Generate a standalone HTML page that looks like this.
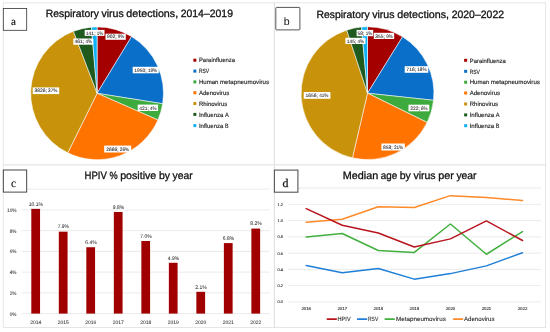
<!DOCTYPE html><html><head><meta charset="utf-8"><title>Respiratory virus detections</title><style>html,body{margin:0;padding:0;background:#fff}svg{display:block}text{font-family:"Liberation Sans", sans-serif;text-rendering:geometricPrecision}text.sf{font-family:"Liberation Serif",serif}</style></head><body>
<svg width="550" height="332" viewBox="0 0 550 332">
<rect width="550" height="332" fill="#fff"/>
<rect x="3.3" y="2.8" width="542.3" height="324.7" fill="#fff" stroke="#e6e6e6" stroke-width="1"/>
<line x1="274.4" x2="274.4" y1="2.8" y2="327.5" stroke="#d4d4d4" stroke-width="0.8"/>
<line x1="3.3" x2="545.6" y1="164.8" y2="164.8" stroke="#e4e4e4" stroke-width="1.2"/>
<text y="17.20" font-size="10.61" fill="#111" stroke="#111" stroke-width="0.3"><tspan x="45.80" textLength="53.06" lengthAdjust="spacingAndGlyphs">Respiratory</tspan> <tspan x="101.45" textLength="22.32" lengthAdjust="spacingAndGlyphs">virus</tspan> <tspan x="126.37" textLength="51.76" lengthAdjust="spacingAndGlyphs">detections,</tspan> <tspan x="180.72" textLength="52.22" lengthAdjust="spacingAndGlyphs">2014–2019</tspan></text>
<path d="M97.10,93.30 L97.10,26.90 A66.4,66.4 0 0 1 131.62,36.58 Z" fill="#A50000" stroke="#fff" stroke-width="0.55" stroke-linejoin="round"/>
<path d="M97.10,93.30 L131.62,36.58 A66.4,66.4 0 0 1 162.68,103.73 Z" fill="#0A6FC9" stroke="#fff" stroke-width="0.55" stroke-linejoin="round"/>
<path d="M97.10,93.30 L162.68,103.73 A66.4,66.4 0 0 1 157.92,119.94 Z" fill="#3DAA3D" stroke="#fff" stroke-width="0.55" stroke-linejoin="round"/>
<path d="M97.10,93.30 L157.92,119.94 A66.4,66.4 0 0 1 67.75,152.86 Z" fill="#FF7300" stroke="#fff" stroke-width="0.55" stroke-linejoin="round"/>
<path d="M97.10,93.30 L67.75,152.86 A66.4,66.4 0 0 1 73.41,31.27 Z" fill="#C8920A" stroke="#fff" stroke-width="0.55" stroke-linejoin="round"/>
<path d="M97.10,93.30 L73.41,31.27 A66.4,66.4 0 0 1 91.43,27.14 Z" fill="#1E5A1E" stroke="#fff" stroke-width="0.55" stroke-linejoin="round"/>
<path d="M97.10,93.30 L91.43,27.14 A66.4,66.4 0 0 1 97.10,26.90 Z" fill="#10B0F5" stroke="#fff" stroke-width="0.55" stroke-linejoin="round"/>
<rect x="84.70" y="29.90" width="19.80" height="6.00" fill="#fff"/>
<text y="34.60" font-size="4.86" fill="#262626" stroke="#262626" stroke-width="0.06"><tspan x="85.86" textLength="9.66" lengthAdjust="spacingAndGlyphs">141;</tspan> <tspan x="96.74" textLength="6.60" lengthAdjust="spacingAndGlyphs">1%</tspan></text>
<rect x="105.50" y="33.70" width="20.30" height="6.10" fill="#fff"/>
<text y="38.45" font-size="4.86" fill="#262626" stroke="#262626" stroke-width="0.06"><tspan x="106.91" textLength="9.66" lengthAdjust="spacingAndGlyphs">902;</tspan> <tspan x="117.79" textLength="6.60" lengthAdjust="spacingAndGlyphs">9%</tspan></text>
<rect x="73.30" y="38.50" width="20.00" height="6.20" fill="#fff"/>
<text y="43.30" font-size="4.86" fill="#262626" stroke="#262626" stroke-width="0.06"><tspan x="74.56" textLength="9.66" lengthAdjust="spacingAndGlyphs">461;</tspan> <tspan x="85.44" textLength="6.60" lengthAdjust="spacingAndGlyphs">4%</tspan></text>
<rect x="132.70" y="66.80" width="26.10" height="6.50" fill="#fff"/>
<text y="71.75" font-size="4.86" fill="#262626" stroke="#262626" stroke-width="0.06"><tspan x="134.28" textLength="12.39" lengthAdjust="spacingAndGlyphs">1950;</tspan> <tspan x="147.89" textLength="9.33" lengthAdjust="spacingAndGlyphs">19%</tspan></text>
<rect x="32.70" y="87.40" width="26.50" height="6.70" fill="#fff"/>
<text y="92.45" font-size="4.86" fill="#262626" stroke="#262626" stroke-width="0.06"><tspan x="34.48" textLength="12.39" lengthAdjust="spacingAndGlyphs">3826;</tspan> <tspan x="48.09" textLength="9.33" lengthAdjust="spacingAndGlyphs">37%</tspan></text>
<rect x="137.70" y="104.60" width="20.40" height="6.40" fill="#fff"/>
<text y="109.50" font-size="4.86" fill="#262626" stroke="#262626" stroke-width="0.06"><tspan x="139.16" textLength="9.66" lengthAdjust="spacingAndGlyphs">421;</tspan> <tspan x="150.04" textLength="6.60" lengthAdjust="spacingAndGlyphs">4%</tspan></text>
<rect x="104.20" y="145.60" width="27.00" height="6.90" fill="#fff"/>
<text y="150.75" font-size="4.86" fill="#262626" stroke="#262626" stroke-width="0.06"><tspan x="106.23" textLength="12.39" lengthAdjust="spacingAndGlyphs">2666;</tspan> <tspan x="119.84" textLength="9.33" lengthAdjust="spacingAndGlyphs">26%</tspan></text>
<rect x="193.35" y="58.70" width="3" height="3" fill="#A50000"/>
<text y="62.45" font-size="6.09" fill="#262626" stroke="#262626" stroke-width="0.15"><tspan x="198.90" textLength="36.18" lengthAdjust="spacingAndGlyphs">Parainfluenza</tspan></text>
<rect x="193.35" y="69.60" width="3" height="3" fill="#0A6FC9"/>
<text y="73.35" font-size="6.09" fill="#262626" stroke="#262626" stroke-width="0.15"><tspan x="198.90" textLength="10.26" lengthAdjust="spacingAndGlyphs">RSV</tspan></text>
<rect x="193.35" y="80.40" width="3" height="3" fill="#3DAA3D"/>
<text y="84.15" font-size="6.09" fill="#262626" stroke="#262626" stroke-width="0.15"><tspan x="198.90" textLength="19.54" lengthAdjust="spacingAndGlyphs">Human</tspan> <tspan x="219.94" textLength="49.22" lengthAdjust="spacingAndGlyphs">metapneumovirus</tspan></text>
<rect x="193.35" y="91.20" width="3" height="3" fill="#FF7300"/>
<text y="94.95" font-size="6.09" fill="#262626" stroke="#262626" stroke-width="0.15"><tspan x="198.90" textLength="30.43" lengthAdjust="spacingAndGlyphs">Adenovirus</tspan></text>
<rect x="193.35" y="102.00" width="3" height="3" fill="#C8920A"/>
<text y="105.75" font-size="6.09" fill="#262626" stroke="#262626" stroke-width="0.15"><tspan x="198.90" textLength="28.42" lengthAdjust="spacingAndGlyphs">Rhinovirus</tspan></text>
<rect x="193.35" y="112.90" width="3" height="3" fill="#1E5A1E"/>
<text y="116.65" font-size="6.09" fill="#262626" stroke="#262626" stroke-width="0.15"><tspan x="198.90" textLength="24.54" lengthAdjust="spacingAndGlyphs">Influenza</tspan> <tspan x="224.93" textLength="3.83" lengthAdjust="spacingAndGlyphs">A</tspan></text>
<rect x="193.35" y="124.10" width="3" height="3" fill="#10B0F5"/>
<text y="127.85" font-size="6.09" fill="#262626" stroke="#262626" stroke-width="0.15"><tspan x="198.90" textLength="24.54" lengthAdjust="spacingAndGlyphs">Influenza</tspan> <tspan x="224.93" textLength="3.60" lengthAdjust="spacingAndGlyphs">B</tspan></text>
<rect x="3.3" y="8.4" width="23.40" height="21.90" rx="0" fill="#fff" stroke="#333" stroke-width="0.8"/>
<text x="13.40" y="25.00" font-size="11.00" fill="#111" stroke="#111" stroke-width="0.2" text-anchor="middle" class="sf">a</text>
<text y="17.50" font-size="10.64" fill="#111" stroke="#111" stroke-width="0.3"><tspan x="316.40" textLength="53.20" lengthAdjust="spacingAndGlyphs">Respiratory</tspan> <tspan x="372.20" textLength="22.38" lengthAdjust="spacingAndGlyphs">virus</tspan> <tspan x="397.18" textLength="51.90" lengthAdjust="spacingAndGlyphs">detections,</tspan> <tspan x="451.68" textLength="52.36" lengthAdjust="spacingAndGlyphs">2020–2022</tspan></text>
<path d="M367.50,93.20 L367.50,26.80 A66.4,66.4 0 0 1 402.56,36.81 Z" fill="#A50000" stroke="#fff" stroke-width="0.55" stroke-linejoin="round"/>
<path d="M367.50,93.20 L402.56,36.81 A66.4,66.4 0 0 1 433.52,100.31 Z" fill="#0A6FC9" stroke="#fff" stroke-width="0.55" stroke-linejoin="round"/>
<path d="M367.50,93.20 L433.52,100.31 A66.4,66.4 0 0 1 427.14,122.39 Z" fill="#3DAA3D" stroke="#fff" stroke-width="0.55" stroke-linejoin="round"/>
<path d="M367.50,93.20 L427.14,122.39 A66.4,66.4 0 0 1 352.44,157.87 Z" fill="#FF7300" stroke="#fff" stroke-width="0.55" stroke-linejoin="round"/>
<path d="M367.50,93.20 L352.44,157.87 A66.4,66.4 0 0 1 346.73,30.13 Z" fill="#C8920A" stroke="#fff" stroke-width="0.55" stroke-linejoin="round"/>
<path d="M367.50,93.20 L346.73,30.13 A66.4,66.4 0 0 1 361.47,27.07 Z" fill="#1E5A1E" stroke="#fff" stroke-width="0.55" stroke-linejoin="round"/>
<path d="M367.50,93.20 L361.47,27.07 A66.4,66.4 0 0 1 367.50,26.80 Z" fill="#10B0F5" stroke="#fff" stroke-width="0.55" stroke-linejoin="round"/>
<rect x="356.60" y="29.90" width="16.60" height="6.30" fill="#fff"/>
<text y="34.75" font-size="4.86" fill="#262626" stroke="#262626" stroke-width="0.06"><tspan x="357.53" textLength="6.92" lengthAdjust="spacingAndGlyphs">58;</tspan> <tspan x="365.67" textLength="6.60" lengthAdjust="spacingAndGlyphs">1%</tspan></text>
<rect x="373.80" y="32.80" width="20.40" height="6.20" fill="#fff"/>
<text y="37.60" font-size="4.86" fill="#262626" stroke="#262626" stroke-width="0.06"><tspan x="375.26" textLength="9.66" lengthAdjust="spacingAndGlyphs">355;</tspan> <tspan x="386.14" textLength="6.60" lengthAdjust="spacingAndGlyphs">9%</tspan></text>
<rect x="345.40" y="37.80" width="20.10" height="6.20" fill="#fff"/>
<text y="42.60" font-size="4.86" fill="#262626" stroke="#262626" stroke-width="0.06"><tspan x="346.71" textLength="9.66" lengthAdjust="spacingAndGlyphs">145;</tspan> <tspan x="357.59" textLength="6.60" lengthAdjust="spacingAndGlyphs">4%</tspan></text>
<rect x="404.70" y="66.20" width="23.60" height="6.60" fill="#fff"/>
<text y="71.20" font-size="4.86" fill="#262626" stroke="#262626" stroke-width="0.06"><tspan x="406.39" textLength="9.66" lengthAdjust="spacingAndGlyphs">716;</tspan> <tspan x="417.27" textLength="9.33" lengthAdjust="spacingAndGlyphs">18%</tspan></text>
<rect x="303.70" y="92.00" width="26.70" height="6.80" fill="#fff"/>
<text y="97.10" font-size="4.86" fill="#262626" stroke="#262626" stroke-width="0.06"><tspan x="305.58" textLength="12.39" lengthAdjust="spacingAndGlyphs">1656;</tspan> <tspan x="319.19" textLength="9.33" lengthAdjust="spacingAndGlyphs">41%</tspan></text>
<rect x="408.50" y="104.70" width="20.80" height="6.60" fill="#fff"/>
<text y="109.70" font-size="4.86" fill="#262626" stroke="#262626" stroke-width="0.06"><tspan x="410.16" textLength="9.66" lengthAdjust="spacingAndGlyphs">222;</tspan> <tspan x="421.04" textLength="6.60" lengthAdjust="spacingAndGlyphs">6%</tspan></text>
<rect x="381.40" y="143.50" width="23.50" height="7.00" fill="#fff"/>
<text y="148.70" font-size="4.86" fill="#262626" stroke="#262626" stroke-width="0.06"><tspan x="383.04" textLength="9.66" lengthAdjust="spacingAndGlyphs">858;</tspan> <tspan x="393.92" textLength="9.33" lengthAdjust="spacingAndGlyphs">21%</tspan></text>
<rect x="464.15" y="58.80" width="3" height="3" fill="#A50000"/>
<text y="62.55" font-size="6.09" fill="#262626" stroke="#262626" stroke-width="0.15"><tspan x="469.70" textLength="36.18" lengthAdjust="spacingAndGlyphs">Parainfluenza</tspan></text>
<rect x="464.15" y="69.80" width="3" height="3" fill="#0A6FC9"/>
<text y="73.55" font-size="6.09" fill="#262626" stroke="#262626" stroke-width="0.15"><tspan x="469.70" textLength="10.26" lengthAdjust="spacingAndGlyphs">RSV</tspan></text>
<rect x="464.15" y="80.70" width="3" height="3" fill="#3DAA3D"/>
<text y="84.45" font-size="6.09" fill="#262626" stroke="#262626" stroke-width="0.15"><tspan x="469.70" textLength="19.54" lengthAdjust="spacingAndGlyphs">Human</tspan> <tspan x="490.74" textLength="49.22" lengthAdjust="spacingAndGlyphs">metapneumovirus</tspan></text>
<rect x="464.15" y="91.50" width="3" height="3" fill="#FF7300"/>
<text y="95.25" font-size="6.09" fill="#262626" stroke="#262626" stroke-width="0.15"><tspan x="469.70" textLength="30.43" lengthAdjust="spacingAndGlyphs">Adenovirus</tspan></text>
<rect x="464.15" y="102.50" width="3" height="3" fill="#C8920A"/>
<text y="106.25" font-size="6.09" fill="#262626" stroke="#262626" stroke-width="0.15"><tspan x="469.70" textLength="28.42" lengthAdjust="spacingAndGlyphs">Rhinovirus</tspan></text>
<rect x="464.15" y="113.40" width="3" height="3" fill="#1E5A1E"/>
<text y="117.15" font-size="6.09" fill="#262626" stroke="#262626" stroke-width="0.15"><tspan x="469.70" textLength="24.54" lengthAdjust="spacingAndGlyphs">Influenza</tspan> <tspan x="495.73" textLength="3.83" lengthAdjust="spacingAndGlyphs">A</tspan></text>
<rect x="464.15" y="124.20" width="3" height="3" fill="#10B0F5"/>
<text y="127.95" font-size="6.09" fill="#262626" stroke="#262626" stroke-width="0.15"><tspan x="469.70" textLength="24.54" lengthAdjust="spacingAndGlyphs">Influenza</tspan> <tspan x="495.73" textLength="3.60" lengthAdjust="spacingAndGlyphs">B</tspan></text>
<rect x="275.8" y="7.4" width="24.10" height="22.50" rx="0.8" fill="#fff" stroke="#555" stroke-width="1"/>
<text x="286.60" y="24.70" font-size="10.60" fill="#111" text-anchor="middle">b</text>
<text y="178.80" font-size="10.55" fill="#111" stroke="#111" stroke-width="0.3"><tspan x="84.52" textLength="22.33" lengthAdjust="spacingAndGlyphs">HPIV</tspan> <tspan x="109.43" textLength="8.15" lengthAdjust="spacingAndGlyphs">%</tspan> <tspan x="120.16" textLength="36.14" lengthAdjust="spacingAndGlyphs">positive</tspan> <tspan x="158.88" textLength="11.09" lengthAdjust="spacingAndGlyphs">by</tspan> <tspan x="172.55" textLength="20.13" lengthAdjust="spacingAndGlyphs">year</tspan></text>
<line x1="21.5" x2="269.5" y1="313.60" y2="313.60" stroke="#e2e2e2" stroke-width="0.7"/>
<text y="315.70" font-size="5.06" fill="#2a2a2a" stroke="#2a2a2a" stroke-width="0.04"><tspan x="9.78" textLength="6.72" lengthAdjust="spacingAndGlyphs">0%</tspan></text>
<line x1="21.5" x2="269.5" y1="292.86" y2="292.86" stroke="#e2e2e2" stroke-width="0.7"/>
<text y="294.96" font-size="5.06" fill="#2a2a2a" stroke="#2a2a2a" stroke-width="0.04"><tspan x="9.78" textLength="6.72" lengthAdjust="spacingAndGlyphs">2%</tspan></text>
<line x1="21.5" x2="269.5" y1="272.12" y2="272.12" stroke="#e2e2e2" stroke-width="0.7"/>
<text y="274.22" font-size="5.06" fill="#2a2a2a" stroke="#2a2a2a" stroke-width="0.04"><tspan x="9.78" textLength="6.72" lengthAdjust="spacingAndGlyphs">4%</tspan></text>
<line x1="21.5" x2="269.5" y1="251.38" y2="251.38" stroke="#e2e2e2" stroke-width="0.7"/>
<text y="253.48" font-size="5.06" fill="#2a2a2a" stroke="#2a2a2a" stroke-width="0.04"><tspan x="9.78" textLength="6.72" lengthAdjust="spacingAndGlyphs">6%</tspan></text>
<line x1="21.5" x2="269.5" y1="230.64" y2="230.64" stroke="#e2e2e2" stroke-width="0.7"/>
<text y="232.74" font-size="5.06" fill="#2a2a2a" stroke="#2a2a2a" stroke-width="0.04"><tspan x="9.78" textLength="6.72" lengthAdjust="spacingAndGlyphs">8%</tspan></text>
<line x1="21.5" x2="269.5" y1="209.90" y2="209.90" stroke="#e2e2e2" stroke-width="0.7"/>
<text y="212.00" font-size="5.06" fill="#2a2a2a" stroke="#2a2a2a" stroke-width="0.04"><tspan x="6.99" textLength="9.51" lengthAdjust="spacingAndGlyphs">10%</tspan></text>
<line x1="26.7" x2="269.5" y1="189.16" y2="189.16" stroke="#e2e2e2" stroke-width="0.7"/>
<rect x="31.30" y="208.86" width="8.75" height="104.74" fill="#A00000"/>
<text y="205.66" font-size="5.24" fill="#2a2a2a" stroke="#2a2a2a" stroke-width="0.04"><tspan x="28.79" textLength="14.18" lengthAdjust="spacingAndGlyphs">10.1%</tspan></text>
<text y="323.80" font-size="5.06" fill="#2a2a2a" stroke="#2a2a2a" stroke-width="0.04"><tspan x="30.20" textLength="11.15" lengthAdjust="spacingAndGlyphs">2014</tspan></text>
<rect x="58.81" y="231.68" width="8.75" height="81.92" fill="#A00000"/>
<text y="228.48" font-size="5.24" fill="#2a2a2a" stroke="#2a2a2a" stroke-width="0.04"><tspan x="57.74" textLength="11.29" lengthAdjust="spacingAndGlyphs">7.9%</tspan></text>
<text y="323.80" font-size="5.06" fill="#2a2a2a" stroke="#2a2a2a" stroke-width="0.04"><tspan x="57.71" textLength="11.15" lengthAdjust="spacingAndGlyphs">2015</tspan></text>
<rect x="86.32" y="247.23" width="8.75" height="66.37" fill="#A00000"/>
<text y="244.03" font-size="5.24" fill="#2a2a2a" stroke="#2a2a2a" stroke-width="0.04"><tspan x="85.25" textLength="11.29" lengthAdjust="spacingAndGlyphs">6.4%</tspan></text>
<text y="323.80" font-size="5.06" fill="#2a2a2a" stroke="#2a2a2a" stroke-width="0.04"><tspan x="85.22" textLength="11.15" lengthAdjust="spacingAndGlyphs">2016</tspan></text>
<rect x="113.83" y="211.97" width="8.75" height="101.63" fill="#A00000"/>
<text y="208.77" font-size="5.24" fill="#2a2a2a" stroke="#2a2a2a" stroke-width="0.04"><tspan x="112.76" textLength="11.29" lengthAdjust="spacingAndGlyphs">9.8%</tspan></text>
<text y="323.80" font-size="5.06" fill="#2a2a2a" stroke="#2a2a2a" stroke-width="0.04"><tspan x="112.73" textLength="11.15" lengthAdjust="spacingAndGlyphs">2017</tspan></text>
<rect x="141.34" y="241.01" width="8.75" height="72.59" fill="#A00000"/>
<text y="237.81" font-size="5.24" fill="#2a2a2a" stroke="#2a2a2a" stroke-width="0.04"><tspan x="140.27" textLength="11.29" lengthAdjust="spacingAndGlyphs">7.0%</tspan></text>
<text y="323.80" font-size="5.06" fill="#2a2a2a" stroke="#2a2a2a" stroke-width="0.04"><tspan x="140.24" textLength="11.15" lengthAdjust="spacingAndGlyphs">2018</tspan></text>
<rect x="168.85" y="262.79" width="8.75" height="50.81" fill="#A00000"/>
<text y="259.59" font-size="5.24" fill="#2a2a2a" stroke="#2a2a2a" stroke-width="0.04"><tspan x="167.78" textLength="11.29" lengthAdjust="spacingAndGlyphs">4.9%</tspan></text>
<text y="323.80" font-size="5.06" fill="#2a2a2a" stroke="#2a2a2a" stroke-width="0.04"><tspan x="167.75" textLength="11.15" lengthAdjust="spacingAndGlyphs">2019</tspan></text>
<rect x="196.36" y="291.82" width="8.75" height="21.78" fill="#A00000"/>
<text y="288.62" font-size="5.24" fill="#2a2a2a" stroke="#2a2a2a" stroke-width="0.04"><tspan x="195.29" textLength="11.29" lengthAdjust="spacingAndGlyphs">2.1%</tspan></text>
<text y="323.80" font-size="5.06" fill="#2a2a2a" stroke="#2a2a2a" stroke-width="0.04"><tspan x="195.26" textLength="11.15" lengthAdjust="spacingAndGlyphs">2020</tspan></text>
<rect x="223.87" y="243.08" width="8.75" height="70.52" fill="#A00000"/>
<text y="239.88" font-size="5.24" fill="#2a2a2a" stroke="#2a2a2a" stroke-width="0.04"><tspan x="222.80" textLength="11.29" lengthAdjust="spacingAndGlyphs">6.8%</tspan></text>
<text y="323.80" font-size="5.06" fill="#2a2a2a" stroke="#2a2a2a" stroke-width="0.04"><tspan x="222.77" textLength="11.15" lengthAdjust="spacingAndGlyphs">2021</tspan></text>
<rect x="251.38" y="228.57" width="8.75" height="85.03" fill="#A00000"/>
<text y="225.37" font-size="5.24" fill="#2a2a2a" stroke="#2a2a2a" stroke-width="0.04"><tspan x="250.31" textLength="11.29" lengthAdjust="spacingAndGlyphs">8.2%</tspan></text>
<text y="323.80" font-size="5.06" fill="#2a2a2a" stroke="#2a2a2a" stroke-width="0.04"><tspan x="250.28" textLength="11.15" lengthAdjust="spacingAndGlyphs">2022</tspan></text>
<rect x="3.3" y="170.0" width="23.40" height="22.10" rx="0" fill="#fff" stroke="#333" stroke-width="0.9"/>
<text x="13.50" y="186.70" font-size="11.50" fill="#111" stroke="#111" stroke-width="0.15" text-anchor="middle" class="sf">c</text>
<text y="179.10" font-size="10.55" fill="#111" stroke="#111" stroke-width="0.3"><tspan x="342.69" textLength="35.48" lengthAdjust="spacingAndGlyphs">Median</tspan> <tspan x="380.75" textLength="16.40" lengthAdjust="spacingAndGlyphs">age</tspan> <tspan x="399.73" textLength="11.09" lengthAdjust="spacingAndGlyphs">by</tspan> <tspan x="413.40" textLength="22.19" lengthAdjust="spacingAndGlyphs">virus</tspan> <tspan x="438.16" textLength="15.64" lengthAdjust="spacingAndGlyphs">per</tspan> <tspan x="456.38" textLength="20.13" lengthAdjust="spacingAndGlyphs">year</tspan></text>
<line x1="288" x2="541" y1="301.90" y2="301.90" stroke="#e2e2e2" stroke-width="0.7"/>
<text y="303.40" font-size="3.96" fill="#2a2a2a" stroke="#2a2a2a" stroke-width="0.1"><tspan x="277.60" textLength="5.44" lengthAdjust="spacingAndGlyphs">0.0</tspan></text>
<line x1="288" x2="541" y1="285.64" y2="285.64" stroke="#e2e2e2" stroke-width="0.7"/>
<text y="287.14" font-size="3.96" fill="#2a2a2a" stroke="#2a2a2a" stroke-width="0.1"><tspan x="277.60" textLength="5.44" lengthAdjust="spacingAndGlyphs">0.2</tspan></text>
<line x1="288" x2="541" y1="269.38" y2="269.38" stroke="#e2e2e2" stroke-width="0.7"/>
<text y="270.88" font-size="3.96" fill="#2a2a2a" stroke="#2a2a2a" stroke-width="0.1"><tspan x="277.60" textLength="5.44" lengthAdjust="spacingAndGlyphs">0.4</tspan></text>
<line x1="288" x2="541" y1="253.12" y2="253.12" stroke="#e2e2e2" stroke-width="0.7"/>
<text y="254.62" font-size="3.96" fill="#2a2a2a" stroke="#2a2a2a" stroke-width="0.1"><tspan x="277.60" textLength="5.44" lengthAdjust="spacingAndGlyphs">0.6</tspan></text>
<line x1="288" x2="541" y1="236.86" y2="236.86" stroke="#e2e2e2" stroke-width="0.7"/>
<text y="238.36" font-size="3.96" fill="#2a2a2a" stroke="#2a2a2a" stroke-width="0.1"><tspan x="277.60" textLength="5.44" lengthAdjust="spacingAndGlyphs">0.8</tspan></text>
<line x1="288" x2="541" y1="220.60" y2="220.60" stroke="#e2e2e2" stroke-width="0.7"/>
<text y="222.10" font-size="3.96" fill="#2a2a2a" stroke="#2a2a2a" stroke-width="0.1"><tspan x="277.60" textLength="5.44" lengthAdjust="spacingAndGlyphs">1.0</tspan></text>
<line x1="288" x2="541" y1="204.34" y2="204.34" stroke="#e2e2e2" stroke-width="0.7"/>
<text y="205.84" font-size="3.96" fill="#2a2a2a" stroke="#2a2a2a" stroke-width="0.1"><tspan x="277.60" textLength="5.44" lengthAdjust="spacingAndGlyphs">1.2</tspan></text>
<line x1="298" x2="541" y1="188.08" y2="188.08" stroke="#e2e2e2" stroke-width="0.7"/>
<text y="309.80" font-size="4.32" fill="#2a2a2a" stroke="#2a2a2a" stroke-width="0.1"><tspan x="301.44" textLength="9.53" lengthAdjust="spacingAndGlyphs">2016</tspan></text>
<text y="309.80" font-size="4.32" fill="#2a2a2a" stroke="#2a2a2a" stroke-width="0.1"><tspan x="337.49" textLength="9.53" lengthAdjust="spacingAndGlyphs">2017</tspan></text>
<text y="309.80" font-size="4.32" fill="#2a2a2a" stroke="#2a2a2a" stroke-width="0.1"><tspan x="373.54" textLength="9.53" lengthAdjust="spacingAndGlyphs">2018</tspan></text>
<text y="309.80" font-size="4.32" fill="#2a2a2a" stroke="#2a2a2a" stroke-width="0.1"><tspan x="409.59" textLength="9.53" lengthAdjust="spacingAndGlyphs">2019</tspan></text>
<text y="309.80" font-size="4.32" fill="#2a2a2a" stroke="#2a2a2a" stroke-width="0.1"><tspan x="445.64" textLength="9.53" lengthAdjust="spacingAndGlyphs">2020</tspan></text>
<text y="309.80" font-size="4.32" fill="#2a2a2a" stroke="#2a2a2a" stroke-width="0.1"><tspan x="481.69" textLength="9.53" lengthAdjust="spacingAndGlyphs">2021</tspan></text>
<text y="309.80" font-size="4.32" fill="#2a2a2a" stroke="#2a2a2a" stroke-width="0.1"><tspan x="517.74" textLength="9.53" lengthAdjust="spacingAndGlyphs">2022</tspan></text>
<polyline points="306.2,265.48 342.2,272.71 378.3,268.57 414.3,279.14 450.4,273.61 486.4,265.88 522.5,252.71" fill="none" stroke="#1F7FD6" stroke-width="1.5" stroke-linejoin="round" stroke-linecap="round"/>
<polyline points="306.2,222.31 342.2,219.30 378.3,206.70 414.3,207.51 450.4,195.64 486.4,197.51 522.5,200.60" fill="none" stroke="#FF8A2A" stroke-width="1.5" stroke-linejoin="round" stroke-linecap="round"/>
<polyline points="306.2,237.02 342.2,233.53 378.3,250.52 414.3,252.39 450.4,224.01 486.4,254.26 522.5,231.58" fill="none" stroke="#42B03E" stroke-width="1.5" stroke-linejoin="round" stroke-linecap="round"/>
<polyline points="306.2,208.57 342.2,225.23 378.3,233.04 414.3,246.94 450.4,238.89 486.4,220.93 522.5,240.52" fill="none" stroke="#B8141E" stroke-width="1.5" stroke-linejoin="round" stroke-linecap="round"/>
<line x1="327.4" x2="336.2" y1="319.05" y2="319.05" stroke="#B8141E" stroke-width="1.8" stroke-linecap="round"/>
<text y="321.15" font-size="6.12" fill="#2a2a2a" stroke="#2a2a2a" stroke-width="0.1"><tspan x="337.60" textLength="13.03" lengthAdjust="spacingAndGlyphs">HPIV</tspan></text>
<line x1="357.7" x2="366.5" y1="319.05" y2="319.05" stroke="#1F7FD6" stroke-width="1.8" stroke-linecap="round"/>
<text y="321.15" font-size="6.12" fill="#2a2a2a" stroke="#2a2a2a" stroke-width="0.1"><tspan x="368.00" textLength="10.31" lengthAdjust="spacingAndGlyphs">RSV</tspan></text>
<line x1="385.29999999999995" x2="394.09999999999997" y1="319.05" y2="319.05" stroke="#42B03E" stroke-width="1.8" stroke-linecap="round"/>
<text y="321.15" font-size="6.12" fill="#2a2a2a" stroke="#2a2a2a" stroke-width="0.1"><tspan x="396.00" textLength="49.81" lengthAdjust="spacingAndGlyphs">Metapneumovirus</tspan></text>
<line x1="453.7" x2="462.5" y1="319.05" y2="319.05" stroke="#FF8A2A" stroke-width="1.8" stroke-linecap="round"/>
<text y="321.15" font-size="6.12" fill="#2a2a2a" stroke="#2a2a2a" stroke-width="0.1"><tspan x="464.00" textLength="30.57" lengthAdjust="spacingAndGlyphs">Adenovirus</tspan></text>
<rect x="274.4" y="170.1" width="23.50" height="22.10" rx="0" fill="#fff" stroke="#555" stroke-width="1.1"/>
<text x="285.50" y="186.90" font-size="11.80" fill="#111" stroke="#111" stroke-width="0.25" text-anchor="middle" class="sf">d</text>
</svg></body></html>
